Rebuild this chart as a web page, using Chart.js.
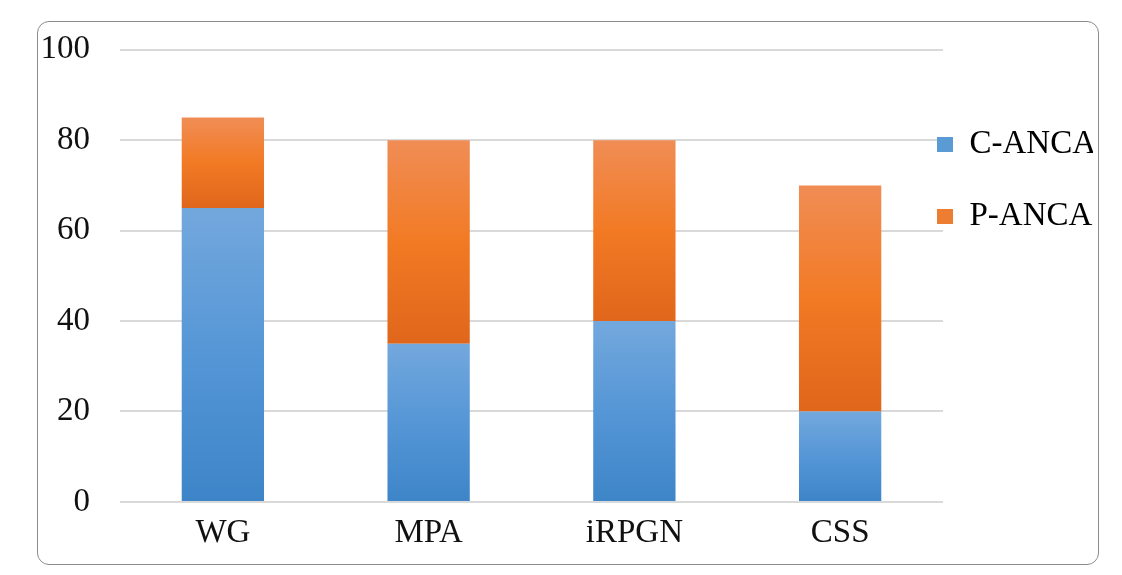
<!DOCTYPE html>
<html>
<head>
<meta charset="utf-8">
<script src="https://cdn.jsdelivr.net/npm/chart.js@4.4.1/dist/chart.umd.min.js"></script>
<style>
  body { margin: 0; background: #fff; }
  #frame {
    position: absolute; left: 37px; top: 21px; width: 1062px; height: 544px;
    box-sizing: border-box; border: 1.5px solid #8c8c8c; border-radius: 12px;
  }
  #wrap { position: absolute; left: 0; top: 0; width: 1122px; height: 575px; }
</style>
</head>
<body>
<div id="frame"></div>
<div id="wrap"><canvas id="chart" width="1122" height="575"></canvas></div>
<script>
// data
const categories = ['WG', 'MPA', 'iRPGN', 'CSS'];
const cAnca = [65, 35, 40, 20];
const pAnca = [20, 45, 40, 50];
const seriesNames = ['C-ANCA', 'P-ANCA'];
const yTicks = [0, 20, 40, 60, 80, 100];

// light top -> dark bottom, like the office gradient fill
const blueStops = ['#73a8dd', '#5596d6', '#3d85c8'];
const orangeStops = ['#f08d55', '#f27a24', '#e0661b'];
const legendColors = ['#5b9bd5', '#ed7d31'];

function segFill(stops) {
  return function (ctx) {
    const chart = ctx.chart;
    if (!chart.chartArea || ctx.type !== 'data') return stops[1];
    const i = ctx.dataIndex;
    let base = 0;
    for (let k = 0; k < ctx.datasetIndex; k++) base += chart.data.datasets[k].data[i];
    const y = chart.scales.y;
    const top = y.getPixelForValue(base + ctx.raw);
    const bot = y.getPixelForValue(base);
    const g = chart.ctx.createLinearGradient(0, top, 0, bot);
    g.addColorStop(0, stops[0]);
    g.addColorStop(0.5, stops[1]);
    g.addColorStop(1, stops[2]);
    return g;
  };
}

// nudge the legend to where the original has it (widen it leftwards, move down)
const legendShift = {
  id: 'legendShift',
  afterLayout(chart) {
    const lg = chart.legend;
    lg.left -= 45;
    lg.width = lg.right - lg.left;
    lg.top += 42; lg.bottom += 42;
  }
};

const font = { family: "'Liberation Serif', 'Times New Roman', serif", size: 33 };

const ctx = document.getElementById('chart').getContext('2d');
const chart = new Chart(ctx, {
  type: 'bar',
  data: {
    labels: categories,
    datasets: [
      { label: seriesNames[0], data: cAnca, backgroundColor: segFill(blueStops), borderWidth: 0 },
      { label: seriesNames[1], data: pAnca, backgroundColor: segFill(orangeStops), borderWidth: 0 }
    ]
  },
  options: {
    responsive: false,
    animation: false,
    barPercentage: 0.4,
    categoryPercentage: 1,
    layout: { padding: { left: 40, right: 29, top: 47, bottom: 18.5 } },
    plugins: {
      tooltip: { enabled: false },
      legend: {
        position: 'right',
        align: 'start',
        maxWidth: 150,
        labels: {
          font: font,
          color: '#111',
          boxWidth: 16,
          boxHeight: 15,
          padding: 39,
          generateLabels: (c) => c.data.datasets.map((d, i) => ({
            text: d.label, fillStyle: legendColors[i], strokeStyle: legendColors[i],
            lineWidth: 0, datasetIndex: i, hidden: false
          }))
        }
      }
    },
    scales: {
      x: {
        stacked: true,
        grid: { display: false },
        border: { display: false },
        ticks: { font: font, color: '#111', padding: 3.5 }
      },
      y: {
        stacked: true,
        min: 0,
        max: 100,
        afterFit: (s) => { s.width = 80; },
        afterBuildTicks: (s) => { s.ticks = yTicks.map(v => ({ value: v })); },
        grid: { color: '#d9d9d9', lineWidth: 2, drawTicks: false },
        border: { display: false },
        ticks: { font: font, color: '#111', padding: 30 }
      }
    }
  },
  plugins: [legendShift]
});
</script>
</body>
</html>
